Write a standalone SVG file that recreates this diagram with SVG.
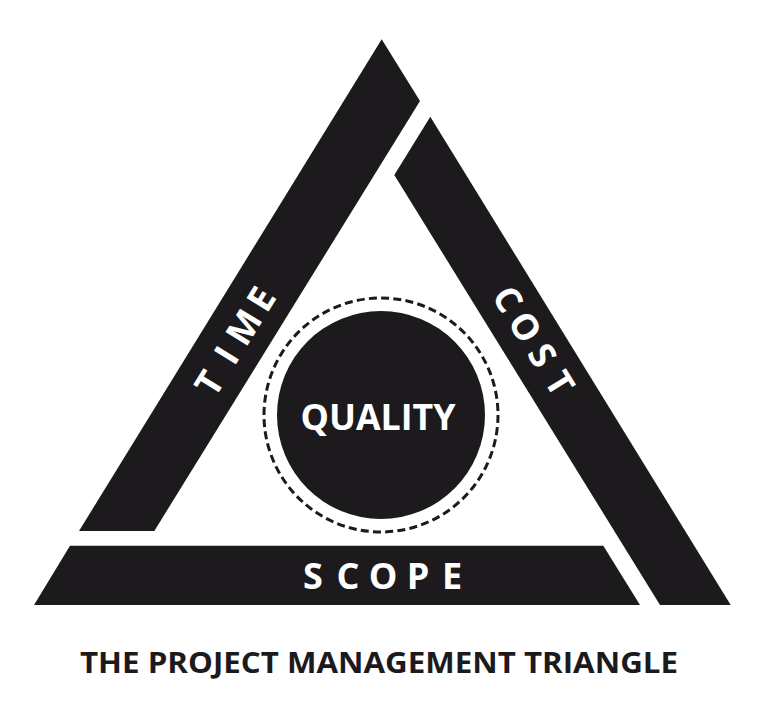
<svg xmlns="http://www.w3.org/2000/svg" width="768" height="711" viewBox="0 0 768 711">
<style>
.bar{fill:#1c1a1d}
.lbl{font-family:"Open Sans","Liberation Sans",sans-serif;font-weight:700;fill:#ffffff;font-size:36px}
.title{font-family:"Open Sans","Liberation Sans",sans-serif;font-weight:700;fill:#1c1a1d;font-size:28px}
</style>
<rect width="768" height="711" fill="#ffffff"/>
<g id="time">
<polygon class="bar" points="381.7,39.3 420,101 154.3,531 79,531"/>
<text class="lbl" transform="translate(235,341) rotate(-58.4)" x="-49.5 -16.5 16.5 49.5" y="13" text-anchor="middle">TIME</text>
</g>
<g id="cost">
<polygon class="bar" points="430.3,116.7 730.7,605 660,605 394.3,175"/>
<text class="lbl" transform="translate(534,341) rotate(58.4)" x="-49.5 -16.5 16.5 49.5" y="13" text-anchor="middle">COST</text>
</g>
<g id="scope">
<polygon class="bar" points="70,545.7 603.3,545.7 640,605 34,605"/>
<text class="lbl" x="313 348 383 418 452" y="589" text-anchor="middle">SCOPE</text>
</g>
<g id="quality">
<circle cx="381" cy="415" r="117" fill="none" stroke="#1c1a1d" stroke-width="3" stroke-dasharray="8 4.25"/>
<circle cx="381" cy="415" r="104" fill="#1c1a1d"/>
<text class="lbl" x="378" y="430" text-anchor="middle" textLength="155" lengthAdjust="spacingAndGlyphs">QUALITY</text>
</g>
<g id="caption">
<text class="title" x="80" y="673" textLength="598" lengthAdjust="spacingAndGlyphs">THE PROJECT MANAGEMENT TRIANGLE</text>
</g>
<g id="connectors"/>
</svg>
